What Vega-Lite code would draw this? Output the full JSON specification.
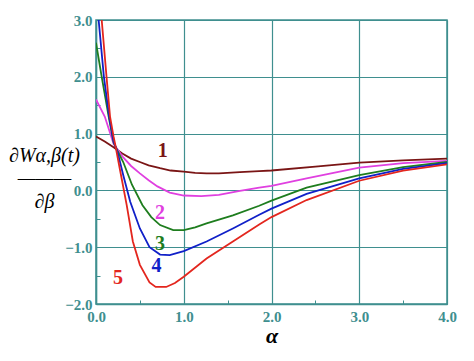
{
  "$schema": "https://vega.github.io/schema/vega-lite/v6.json",
  "autosize": {"type": "none"},
  "padding": {"left": 96, "top": 20, "right": 27, "bottom": 57},
  "width": 351,
  "height": 284,
  "background": "white",
  "config": {
    "view": {"stroke": "#3f8f8f", "strokeWidth": 1.5},
    "axis": {
      "domainColor": "#3f8f8f", "domainWidth": 1.5,
      "gridColor": "#3f8f8f", "gridWidth": 1.2,
      "tickColor": "#3f8f8f", "tickSize": -4,
      "labelFlush": false,
      "labelFont": "Liberation Serif", "labelFontWeight": "bold", "labelFontSize": 15, "labelColor": "#3f8f8f",
      "titleFont": "Liberation Serif", "titleColor": "black"
    }
  },
  "datasets": {
    "curves": [
      {"s": "1", "a": 0, "v": 0.95}, {"s": "1", "a": 0.1, "v": 0.86}, {"s": "1", "a": 0.2, "v": 0.76}, {"s": "1", "a": 0.3, "v": 0.65}, {"s": "1", "a": 0.4, "v": 0.56}, {"s": "1", "a": 0.5, "v": 0.5}, {"s": "1", "a": 0.6, "v": 0.44}, {"s": "1", "a": 0.73, "v": 0.39}, {"s": "1", "a": 0.85, "v": 0.35}, {"s": "1", "a": 1.0, "v": 0.33}, {"s": "1", "a": 1.13, "v": 0.31}, {"s": "1", "a": 1.26, "v": 0.3}, {"s": "1", "a": 1.4, "v": 0.3}, {"s": "1", "a": 1.64, "v": 0.32}, {"s": "1", "a": 1.86, "v": 0.34}, {"s": "1", "a": 2.0, "v": 0.35}, {"s": "1", "a": 2.5, "v": 0.42}, {"s": "1", "a": 3.0, "v": 0.49}, {"s": "1", "a": 3.5, "v": 0.53}, {"s": "1", "a": 4.0, "v": 0.56},
      {"s": "2", "a": 0, "v": 1.6}, {"s": "2", "a": 0.1, "v": 1.3}, {"s": "2", "a": 0.2, "v": 0.82}, {"s": "2", "a": 0.3, "v": 0.6}, {"s": "2", "a": 0.4, "v": 0.43}, {"s": "2", "a": 0.5, "v": 0.3}, {"s": "2", "a": 0.6, "v": 0.18}, {"s": "2", "a": 0.7, "v": 0.07}, {"s": "2", "a": 0.84, "v": -0.04}, {"s": "2", "a": 1.0, "v": -0.09}, {"s": "2", "a": 1.2, "v": -0.1}, {"s": "2", "a": 1.4, "v": -0.08}, {"s": "2", "a": 1.64, "v": -0.01}, {"s": "2", "a": 1.86, "v": 0.05}, {"s": "2", "a": 2.0, "v": 0.08}, {"s": "2", "a": 2.4, "v": 0.21}, {"s": "2", "a": 3.0, "v": 0.4}, {"s": "2", "a": 3.5, "v": 0.48}, {"s": "2", "a": 4.0, "v": 0.52},
      {"s": "3", "a": 0, "v": 2.6}, {"s": "3", "a": 0.065, "v": 2.0}, {"s": "3", "a": 0.15, "v": 1.25}, {"s": "3", "a": 0.2, "v": 0.85}, {"s": "3", "a": 0.25, "v": 0.68}, {"s": "3", "a": 0.31, "v": 0.5}, {"s": "3", "a": 0.41, "v": 0.1}, {"s": "3", "a": 0.53, "v": -0.26}, {"s": "3", "a": 0.63, "v": -0.47}, {"s": "3", "a": 0.73, "v": -0.61}, {"s": "3", "a": 0.88, "v": -0.7}, {"s": "3", "a": 1.0, "v": -0.7}, {"s": "3", "a": 1.13, "v": -0.65}, {"s": "3", "a": 1.26, "v": -0.58}, {"s": "3", "a": 1.56, "v": -0.44}, {"s": "3", "a": 1.86, "v": -0.27}, {"s": "3", "a": 2.0, "v": -0.18}, {"s": "3", "a": 2.4, "v": 0.05}, {"s": "3", "a": 3.0, "v": 0.27}, {"s": "3", "a": 3.5, "v": 0.41}, {"s": "3", "a": 4.0, "v": 0.5},
      {"s": "4", "a": 0.03, "v": 3.0}, {"s": "4", "a": 0.09, "v": 2.0}, {"s": "4", "a": 0.15, "v": 1.3}, {"s": "4", "a": 0.2, "v": 0.87}, {"s": "4", "a": 0.25, "v": 0.65}, {"s": "4", "a": 0.31, "v": 0.27}, {"s": "4", "a": 0.39, "v": -0.2}, {"s": "4", "a": 0.5, "v": -0.67}, {"s": "4", "a": 0.61, "v": -1.0}, {"s": "4", "a": 0.73, "v": -1.13}, {"s": "4", "a": 0.84, "v": -1.14}, {"s": "4", "a": 1.0, "v": -1.07}, {"s": "4", "a": 1.26, "v": -0.9}, {"s": "4", "a": 1.56, "v": -0.67}, {"s": "4", "a": 1.86, "v": -0.43}, {"s": "4", "a": 2.0, "v": -0.32}, {"s": "4", "a": 2.4, "v": -0.06}, {"s": "4", "a": 3.0, "v": 0.21}, {"s": "4", "a": 3.5, "v": 0.38}, {"s": "4", "a": 4.0, "v": 0.48},
      {"s": "5", "a": 0.065, "v": 3.0}, {"s": "5", "a": 0.12, "v": 2.0}, {"s": "5", "a": 0.16, "v": 1.3}, {"s": "5", "a": 0.2, "v": 0.95}, {"s": "5", "a": 0.22, "v": 0.8}, {"s": "5", "a": 0.27, "v": 0.39}, {"s": "5", "a": 0.35, "v": -0.26}, {"s": "5", "a": 0.42, "v": -0.9}, {"s": "5", "a": 0.5, "v": -1.31}, {"s": "5", "a": 0.61, "v": -1.62}, {"s": "5", "a": 0.68, "v": -1.7}, {"s": "5", "a": 0.8, "v": -1.7}, {"s": "5", "a": 0.9, "v": -1.63}, {"s": "5", "a": 1.0, "v": -1.52}, {"s": "5", "a": 1.26, "v": -1.2}, {"s": "5", "a": 1.56, "v": -0.9}, {"s": "5", "a": 1.86, "v": -0.6}, {"s": "5", "a": 2.0, "v": -0.47}, {"s": "5", "a": 2.4, "v": -0.17}, {"s": "5", "a": 3.0, "v": 0.17}, {"s": "5", "a": 3.5, "v": 0.35}, {"s": "5", "a": 4.0, "v": 0.46}
    ],
    "labels": [
      {"s": "1", "a": 0.76, "v": 0.7},
      {"s": "2", "a": 0.73, "v": -0.4},
      {"s": "3", "a": 0.73, "v": -0.95},
      {"s": "4", "a": 0.69, "v": -1.33},
      {"s": "5", "a": 0.25, "v": -1.54}
    ]
  },
  "encoding": {
    "x": {
      "field": "a", "type": "quantitative",
      "scale": {"domain": [0, 4], "nice": false, "zero": false},
      "axis": {
        "values": [0, 0.5, 1, 1.5, 2, 2.5, 3, 3.5, 4],
        "labelExpr": "datum.value % 1 === 0 ? format(datum.value, '.1f') : ''",
        "gridOpacity": {"condition": {"test": "datum.value % 1 === 0", "value": 1}, "value": 0},
        "labelPadding": 9,
        "title": "α", "titleFontSize": 22, "titleFontStyle": "italic", "titleFontWeight": "bold", "titlePadding": 1
      }
    },
    "y": {
      "field": "v", "type": "quantitative",
      "scale": {"domain": [-2, 3], "nice": false, "zero": false},
      "axis": {
        "values": [-2, -1.5, -1, -0.5, 0, 0.5, 1, 1.5, 2, 2.5, 3],
        "labelExpr": "datum.value % 1 === 0 ? format(datum.value, '.1f') : ''",
        "gridOpacity": {"condition": {"test": "datum.value % 1 === 0", "value": 1}, "value": 0},
        "labelPadding": 8,
        "title": ["∂Wα,β(t)", "———", "∂β"],
        "titleAngle": 0, "titleAlign": "center", "titleBaseline": "middle",
        "titleFontSize": 20, "titleFontStyle": "italic", "titleFontWeight": "normal",
        "titleX": -52, "titleY": 135, "titleLineHeight": 23
      }
    },
    "color": {
      "field": "s", "type": "nominal",
      "scale": {"domain": ["1", "2", "3", "4", "5"], "range": ["#7a1515", "#e040e0", "#1e7d1e", "#1020c8", "#e3261e"]},
      "legend": null
    }
  },
  "layer": [
    {
      "data": {"name": "curves"},
      "mark": {"type": "line", "strokeWidth": 1.8, "clip": true}
    },
    {
      "data": {"name": "labels"},
      "mark": {"type": "text", "font": "Liberation Serif", "fontWeight": "bold", "fontSize": 20, "align": "center", "baseline": "middle"},
      "encoding": {"text": {"field": "s"}}
    }
  ]
}
